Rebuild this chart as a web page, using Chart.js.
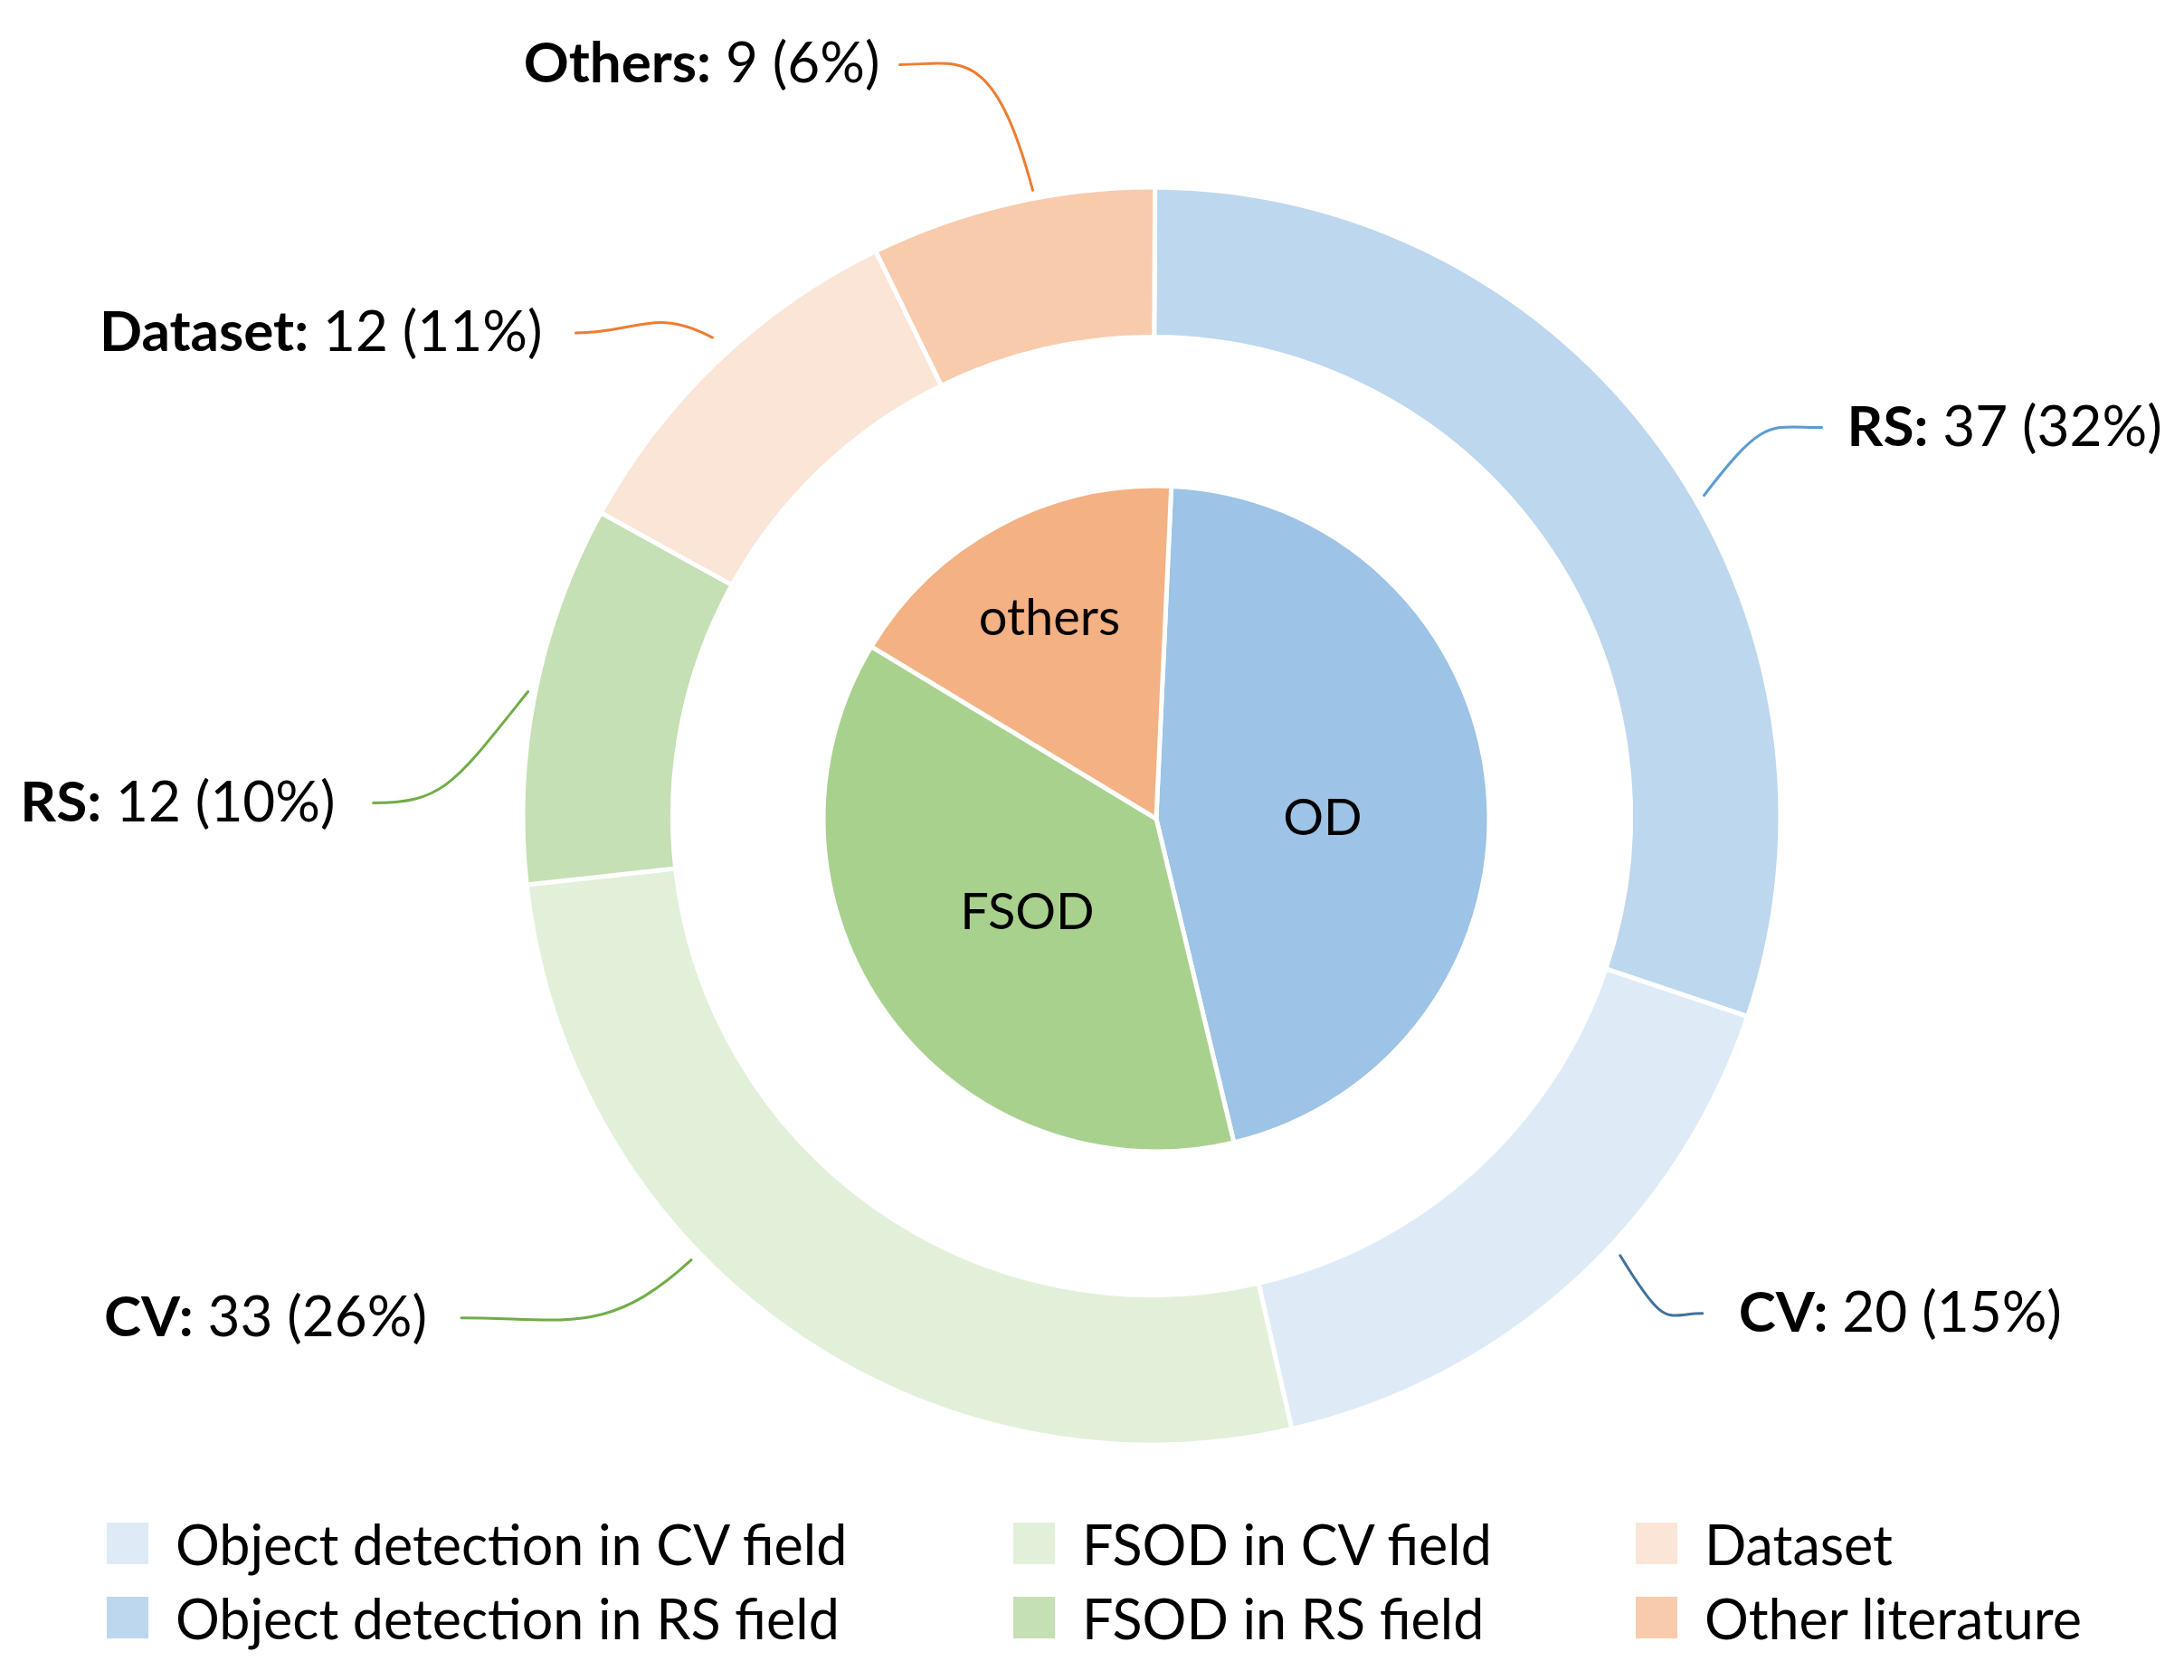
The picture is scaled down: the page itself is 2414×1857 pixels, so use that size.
<!DOCTYPE html>
<html>
<head>
<meta charset="utf-8">
<script src="https://cdn.jsdelivr.net/npm/chart.js@4.4.0/dist/chart.umd.min.js"></script>
<style>
    body { margin: 0; background: #fff; }
    #page { position: relative; width: 2414px; height: 1857px; font-family: Lato, sans-serif; overflow: hidden; }
    #page canvas { position: absolute; left: 0; top: 0; }
    .legend-item {
        position: absolute;
        height: 46px;
        display: flex;
        align-items: center;
        font-size: 61px;
        line-height: 1;
        color: #000;
        white-space: nowrap;
    }
    .legend-item .box { width: 46px; height: 46px; margin-right: 30px; flex: none; }
</style>
</head>
<body>
<div id="page">
    <canvas id="ringChart" width="2414" height="1640"></canvas>
    <canvas id="pieChart" width="2414" height="1640"></canvas>
</div>
<script>
// ===== Data =====
const ringLabels = ['RS', 'CV', 'CV', 'RS', 'Dataset', 'Others'];
const ringValues = [37, 20, 33, 12, 12, 9];
const ringPercents = ['32%', '15%', '26%', '10%', '11%', '6%'];
const ringColors = ['#BDD7EE', '#DEEBF7', '#E2F0D9', '#C5E0B4', '#FBE5D6', '#F8CBAD'];
const leaderColors = ['#5B9BD5', '#41719C', '#70AD47', '#70AD47', '#ED7D31', '#ED7D31'];

const pieLabels = ['OD', 'FSOD', 'others'];
const pieValues = [56, 46, 21];
const pieColors = ['#9DC3E6', '#A9D18E', '#F4B183'];

const legendLabels = ['Object detection in CV field', 'Object detection in RS field',
                      'FSOD in CV field', 'FSOD in RS field', 'Dataset', 'Other literature'];
const legendColors = ['#DEEBF7', '#BDD7EE', '#E2F0D9', '#C5E0B4', '#FBE5D6', '#F8CBAD'];

// ===== Label layout (where each leader leaves its arc, and where it ends) =====
const leaderLayout = [
    { at: 0.55, gap: 11, dx: 130, dy: -75, pad: 28 },
    { at: 0.42, gap: 15, dx: 91, dy: 64, pad: 40 },
    { at: 0.61, gap: 12, dx: -254, dy: 64, pad: 38 },
    { at: 0.50, gap: 8, dx: -171, dy: 123, pad: 42 },
    { at: 0.53, gap: 23, dx: -151, dy: -5, pad: 37 },
    { at: 0.58, gap: 9, dx: -147, dy: -139, pad: 22 }
];
// position of each inner label: fraction along the arc, fraction of the radius
const pieLabelAt = [0.533, 0.5, 0.5];
const pieLabelRadius = [0.5, 0.48, 0.68];

const LABEL_FONT = '62px Lato';
const LABEL_FONT_BOLD = 'bold 62px Lato';

// ===== Plugins =====
function drawMixedLabel(ctx, boldText, restText, x, y, alignLeft) {
    ctx.font = LABEL_FONT_BOLD;
    const w1 = ctx.measureText(boldText).width;
    ctx.font = LABEL_FONT;
    const w2 = ctx.measureText(restText).width;
    const left = alignLeft ? x : x - w1 - w2;
    ctx.textAlign = 'left';
    ctx.textBaseline = 'middle';
    ctx.fillStyle = '#000';
    ctx.font = LABEL_FONT_BOLD;
    ctx.fillText(boldText, left, y);
    ctx.font = LABEL_FONT;
    ctx.fillText(restText, left + w1, y);
}

const ringLabelPlugin = {
    id: 'ringLabels',
    afterDatasetsDraw(chart) {
        const ctx = chart.ctx;
        const meta = chart.getDatasetMeta(0);
        ctx.save();
        meta.data.forEach((arc, i) => {
            const p = arc.getProps(['x', 'y', 'startAngle', 'endAngle', 'outerRadius'], true);
            const lay = leaderLayout[i];
            const a = p.startAngle + lay.at * (p.endAngle - p.startAngle);
            const r = p.outerRadius + lay.gap;
            const x0 = p.x + Math.cos(a) * r;
            const y0 = p.y + Math.sin(a) * r;
            const x3 = x0 + lay.dx;
            const y3 = y0 + lay.dy;
            const side = lay.dx > 0 ? 1 : -1;
            // leaves the ring steeply towards the label, arrives horizontally
            const x1 = x0 + Math.cos(a) * 40 + lay.dx * 0.25;
            const y1 = y0 + Math.sin(a) * 40 + lay.dy * 0.9;
            const x2 = x3 - lay.dx * 0.45;
            const y2 = y3;

            ctx.beginPath();
            ctx.moveTo(x0, y0);
            ctx.bezierCurveTo(x1, y1, x2, y2, x3, y3);
            ctx.strokeStyle = leaderColors[i];
            ctx.lineWidth = 3;
            ctx.lineCap = 'round';
            ctx.stroke();

            drawMixedLabel(ctx, ringLabels[i] + ':', ' ' + ringValues[i] + ' (' + ringPercents[i] + ')',
                           x3 + side * lay.pad, y3, side > 0);
        });
        ctx.restore();
    }
};

const pieLabelPlugin = {
    id: 'pieLabels',
    afterDatasetsDraw(chart) {
        const ctx = chart.ctx;
        const meta = chart.getDatasetMeta(0);
        ctx.save();
        ctx.font = '56px Lato';
        ctx.fillStyle = '#000';
        ctx.textAlign = 'center';
        ctx.textBaseline = 'middle';
        meta.data.forEach((arc, i) => {
            const p = arc.getProps(['x', 'y', 'startAngle', 'endAngle', 'outerRadius'], true);
            const a = p.startAngle + pieLabelAt[i] * (p.endAngle - p.startAngle);
            const r = p.outerRadius * pieLabelRadius[i];
            ctx.fillText(pieLabels[i], p.x + Math.cos(a) * r, p.y + Math.sin(a) * r);
        });
        ctx.restore();
    }
};

// ===== Charts =====
function buildCharts() {
    new Chart(document.getElementById('ringChart'), {
        type: 'doughnut',
        data: {
            labels: ringLabels,
            datasets: [{
                data: ringValues,
                backgroundColor: ringColors,
                borderColor: '#fff',
                borderWidth: 5,
                hoverOffset: 0
            }]
        },
        options: {
            responsive: false,
            animation: false,
            radius: 695,
            cutout: '76.2%',
            rotation: 0.3,
            layout: { padding: { left: 132, right: 0, top: 209, bottom: 45 } },
            plugins: { legend: { display: false }, tooltip: { enabled: false } },
            events: []
        },
        plugins: [ringLabelPlugin]
    });

    new Chart(document.getElementById('pieChart'), {
        type: 'pie',
        data: {
            labels: pieLabels,
            datasets: [{
                data: pieValues,
                backgroundColor: pieColors,
                borderColor: '#fff',
                borderWidth: 5,
                hoverOffset: 0
            }]
        },
        options: {
            responsive: false,
            animation: false,
            radius: 368,
            rotation: 2.6,
            layout: { padding: { left: 142, right: 0, top: 215, bottom: 45 } },
            plugins: { legend: { display: false }, tooltip: { enabled: false } },
            events: []
        },
        plugins: [pieLabelPlugin]
    });
}

// ===== Legend =====
function buildLegend() {
    const page = document.getElementById('page');
    const colLeft = [118, 1120, 1808];
    const rowTop = [1683, 1765];
    legendLabels.forEach((label, i) => {
        const item = document.createElement('div');
        item.className = 'legend-item';
        item.style.left = colLeft[Math.floor(i / 2)] + 'px';
        item.style.top = rowTop[i % 2] + 'px';
        const box = document.createElement('span');
        box.className = 'box';
        box.style.backgroundColor = legendColors[i];
        const text = document.createElement('span');
        text.textContent = label;
        item.appendChild(box);
        item.appendChild(text);
        page.appendChild(item);
    });
}

buildLegend();
const fontLoads = document.fonts
    ? Promise.all([document.fonts.load(LABEL_FONT), document.fonts.load(LABEL_FONT_BOLD)])
    : Promise.resolve();
fontLoads.then(buildCharts, buildCharts);
</script>
</body>
</html>
